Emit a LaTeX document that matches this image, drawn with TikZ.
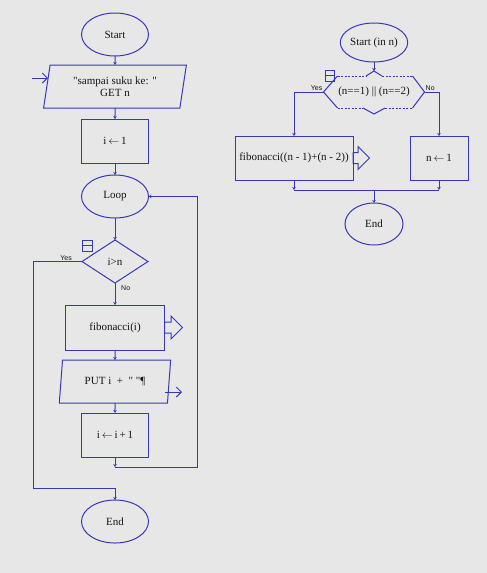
\documentclass[tikz,border=0pt]{standalone}
\usepackage{fontspec}
\setmainfont{Liberation Serif}
\newfontfamily\labelfont{Liberation Sans}
\usetikzlibrary{positioning,shapes.geometric,shapes.arrows,arrows.meta}

\definecolor{flowblue}{RGB}{56,56,182}
\definecolor{paper}{RGB}{231,231,231}
\definecolor{ink}{RGB}{20,20,20}

\tikzset{
	base/.style={draw=flowblue, line width=1pt, text=ink, font=\fontsize{11}{12}\selectfont, inner sep=0pt, outer sep=0pt, align=center},
	terminal/.style={base, ellipse, minimum width=67pt, minimum height=43pt},
	procbox/.style={base, rectangle, minimum width=67pt, minimum height=44pt},
	iobox/.style={base, trapezium, trapezium left angle=78, trapezium right angle=102, trapezium stretches=true, minimum height=43pt},
	testbox/.style={base, diamond, minimum width=66pt, minimum height=43pt},
	callarrow/.style={draw=flowblue, line width=1pt, outer sep=0pt, single arrow, single arrow head extend=6pt, inner sep=5pt, minimum height=18pt},
	flagbox/.style={draw=flowblue, line width=1pt, minimum width=10pt, minimum height=11pt, inner sep=0pt},
	flagline/.style={draw=flowblue, line width=1pt},
	flowlabel/.style={font=\labelfont\fontsize{7}{8}\selectfont, text=ink, inner sep=0pt},
	flow/.style={draw=flowblue, line width=1pt, -{Stealth[length=3pt,width=3.5pt]}},
	plain/.style={draw=flowblue, line width=1pt},
	feed/.style={draw=flowblue, line width=1pt, -{Straight Barb[length=5pt,width=10pt]}},
	testedge/.style={draw=flowblue, line width=1pt},
	testdash/.style={draw=flowblue, line width=1pt, dash pattern=on 2pt off 1.5pt},
}

\begin{document}
\begin{tikzpicture}[x=1pt, y=1pt]
	\fill[paper] (0,0) rectangle (487,-573);

	\node[terminal]                                         (start) at (115,-34.5) {Start};
	\node[iobox, minimum width=144pt, below=9pt of start]   (getn) {\textquotedbl sampai suku ke: \textquotedbl\\GET n};
	\node[procbox, below=11pt of getn]                      (ione) {i\,$\leftarrow$\,1};
	\node[terminal, below=12pt of ione]                     (loop) {Loop};
	\node[testbox, below=22pt of loop]                      (test) {i>n};
	\node[procbox, minimum width=99pt, minimum height=45pt, below=22pt of test] (fibi) {fibonacci(i)};
	\node[iobox, minimum width=112pt, below=10pt of fibi]   (put) {PUT i \ + \ \textquotedbl\ \textquotedbl\P};
	\node[procbox, below=10pt of put]                       (inc) {i\,$\leftarrow$\,i\,+\,1};
	\node[terminal, below=43pt of inc]                      (end) {End};

	\node[callarrow, right=0pt of fibi]                     (fibicall) {};
	\node[flagbox]                                          (lflag) at (87,-245.5) {};
	\draw[flagline] (lflag.west) -- (lflag.east);

	\node[flowlabel, above left=1pt and 10pt of test.west]  (testyes) {Yes};
	\node[flowlabel, below right=2pt and 6pt of test.south] (testno) {No};

	\coordinate (getnin) at (32,-78);
	\coordinate (getnedge) at (48,-78);
	\coordinate (putedge) at (165,-392);
	\coordinate (putout) at (182,-392);
	\coordinate[below=10pt of inc] (incjoin);
	\coordinate (loopturn) at (incjoin -| 197,0);
	\coordinate (yesturn) at (33,-488);

	\draw[feed] (getnin) -- (getnedge);
	\draw[feed] (putedge) -- (putout);
	\draw[flow] (start) -- (getn);
	\draw[flow] (getn) -- (ione);
	\draw[flow] (ione) -- (loop);
	\draw[flow] (loop) -- (test);
	\draw[flow] (test) -- (fibi);
	\draw[flow] (fibi) -- (put);
	\draw[flow] (put) -- (inc);
	\draw[flow] (inc) -- (incjoin);
	\draw[flow] (incjoin) -- (loopturn) |- (loop.east);
	\draw[flow] (test.west) -| (yesturn) -| (end.north);

	\node[terminal, minimum width=58pt, minimum height=39pt]    (rstart) at (374,-42.5) {Start (in n)};
	\node[base, draw=none, minimum width=101pt, minimum height=32pt, below=14pt of rstart] (rtest) {(n==1) || (n==2)};
	\node[procbox, minimum width=118pt]                         (rfib) at (294,-158) {fibonacci((n - 1)+(n - 2))};
	\node[procbox, minimum width=58pt]                          (rone) at (439,-158) {n\,$\leftarrow$\,1};
	\node[terminal, minimum width=58pt, minimum height=42pt]    (rend) at (374,-224) {End};

	\node[callarrow, minimum height=15pt, right=0pt of rfib]    (rfibcall) {};
	\node[flagbox, minimum width=9pt]                           (rflag) at (329.5,-75.5) {};
	\draw[flagline] (rflag.west) -- (rflag.east);

	\draw[testedge] ([xshift=14pt]rtest.north west) -- (rtest.west) -- ([xshift=14pt]rtest.south west);
	\draw[testedge] ([xshift=-12pt]rtest.north east) -- (rtest.east) -- ([xshift=-12pt]rtest.south east);
	\draw[testedge] ([xshift=-8pt]rtest.north) -- ([yshift=5pt]rtest.north) -- ([xshift=8pt]rtest.north);
	\draw[testedge] ([xshift=-11pt]rtest.south) -- ([yshift=-6pt]rtest.south) -- ([xshift=11pt]rtest.south);
	\draw[testdash] ([xshift=14pt]rtest.north west) -- ([xshift=-8pt]rtest.north);
	\draw[testdash] ([xshift=8pt]rtest.north) -- ([xshift=-12pt]rtest.north east);
	\draw[testdash] ([xshift=14pt]rtest.south west) -- ([xshift=-11pt]rtest.south);
	\draw[testdash] ([xshift=11pt]rtest.south) -- ([xshift=-12pt]rtest.south east);

	\node[flowlabel, above left=1pt and 1pt of rtest.west]      (rtestyes) {Yes};
	\node[flowlabel, above right=1pt and 1pt of rtest.east]     (rtestno) {No};

	\coordinate[below=10pt of rfib] (rjoinl);
	\coordinate[below=10pt of rone] (rjoinr);
	\coordinate (rjoin) at (rjoinl -| rend);

	\draw[flow] (rstart) -- ([yshift=5pt]rtest.north);
	\draw[flow] (rtest.west) -| (rfib.north);
	\draw[flow] (rtest.east) -| (rone.north);
	\draw[flow] (rfib) -- (rjoinl);
	\draw[flow] (rone) -- (rjoinr);
	\draw[plain] (rjoinl) -- (rjoinr);
	\draw[flow] (rjoin) -- (rend);
\end{tikzpicture}
\end{document}
